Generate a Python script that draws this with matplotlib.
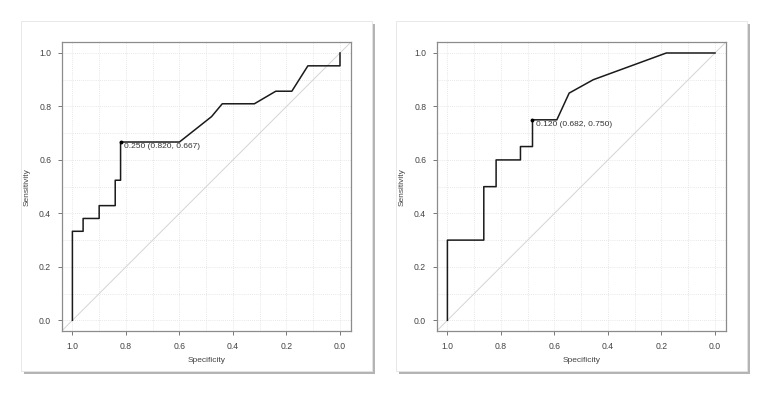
import matplotlib.pyplot as plt
from matplotlib.patches import Rectangle
from matplotlib.ticker import MultipleLocator

plt.rcParams['font.family'] = ['Liberation Sans', 'DejaVu Sans']

# ROC curve 1 (specificity, sensitivity)
spec_a = [1.0, 1.0, 0.96, 0.96, 0.90, 0.90, 0.84, 0.84, 0.82, 0.82,
          0.60, 0.48, 0.44, 0.32, 0.24, 0.18, 0.12, 0.0, 0.0]
sens_a = [0.0, 0.333, 0.333, 0.381, 0.381, 0.429, 0.429, 0.524, 0.524, 0.667,
          0.667, 0.762, 0.810, 0.810, 0.857, 0.857, 0.952, 0.952, 1.0]
thr_a = (0.250, 0.820, 0.667)

# ROC curve 2
spec_b = [1.0, 1.0, 0.864, 0.864, 0.818, 0.818, 0.727, 0.727, 0.682, 0.682,
          0.591, 0.545, 0.455, 0.182, 0.0]
sens_b = [0.0, 0.30, 0.30, 0.50, 0.50, 0.60, 0.60, 0.65, 0.65, 0.75,
          0.75, 0.85, 0.90, 1.0, 1.0]
thr_b = (0.120, 0.682, 0.750)

ticks = [1.0, 0.8, 0.6, 0.4, 0.2, 0.0]
tick_labels = ["1.0", "0.8", "0.6", "0.4", "0.2", "0.0"]

W, H = 768, 394
fig = plt.figure(figsize=(W / 100, H / 100), dpi=100)


def px_rect(x0, y0, x1, y1, z, **kw):
    # pixel box (top-left origin) -> figure fraction rectangle
    r = Rectangle((x0 / W, 1 - y1 / H), (x1 - x0) / W, (y1 - y0) / H,
                  transform=fig.transFigure, zorder=z, **kw)
    fig.add_artist(r)


# panel frames with drop shadow
for px0 in (21, 396):
    px_rect(px0 + 3, 24, px0 + 354, 374, -3, facecolor='#b4b4b4', edgecolor='none')
    px_rect(px0, 21, px0 + 351, 371, -2, facecolor='white', edgecolor='#e4e4e4', lw=0.6)


def roc_panel(ax, spec, sens, thr):
    ax.set_xlim(1.04, -0.04)
    ax.set_ylim(-0.04, 1.04)
    ax.set_facecolor('none')
    ax.xaxis.set_minor_locator(MultipleLocator(0.1))
    ax.yaxis.set_minor_locator(MultipleLocator(0.1))
    ax.grid(True, which='both', color='#e0e0e0', linestyle=(0, (1, 1.5)), lw=0.6)
    ax.set_axisbelow(True)
    ax.axline((1, 0), (0, 1), color='#d4d4d4', lw=0.7, zorder=1)
    ax.plot(spec, sens, color='#1a1a1a', lw=1.1, zorder=3)
    t, sp, se = thr
    ax.plot([sp], [se], 'o', color='black', ms=1.8, zorder=4)
    ax.annotate(f"{t:.3f} ({sp:.3f}, {se:.3f})", (sp, se), xytext=(2.5, -0.8),
                textcoords='offset points', ha='left', va='top',
                fontsize=6, color='#333333')
    ax.set_xticks(ticks)
    ax.set_xticklabels(tick_labels)
    ax.set_yticks(ticks)
    ax.set_yticklabels(tick_labels)
    ax.tick_params(which='major', length=2.6, width=0.7, color='#777777',
                   labelsize=6.2, labelcolor='#444444', pad=5)
    ax.tick_params(which='minor', length=0)
    for s in ax.spines.values():
        s.set_color('#8c8c8c')
        s.set_linewidth(0.9)
    ax.set_xlabel("Specificity", fontsize=6, color='#444444', labelpad=5)
    ax.set_ylabel("Sensitivity", fontsize=6, color='#444444', labelpad=6)


ax1 = fig.add_axes([61.7 / W, 63 / H, 289 / W, 288.7 / H])
roc_panel(ax1, spec_a, sens_a, thr_a)
ax2 = fig.add_axes([436.7 / W, 63 / H, 289 / W, 288.7 / H])
roc_panel(ax2, spec_b, sens_b, thr_b)

fig.savefig("out.png", dpi=100, facecolor='white')
